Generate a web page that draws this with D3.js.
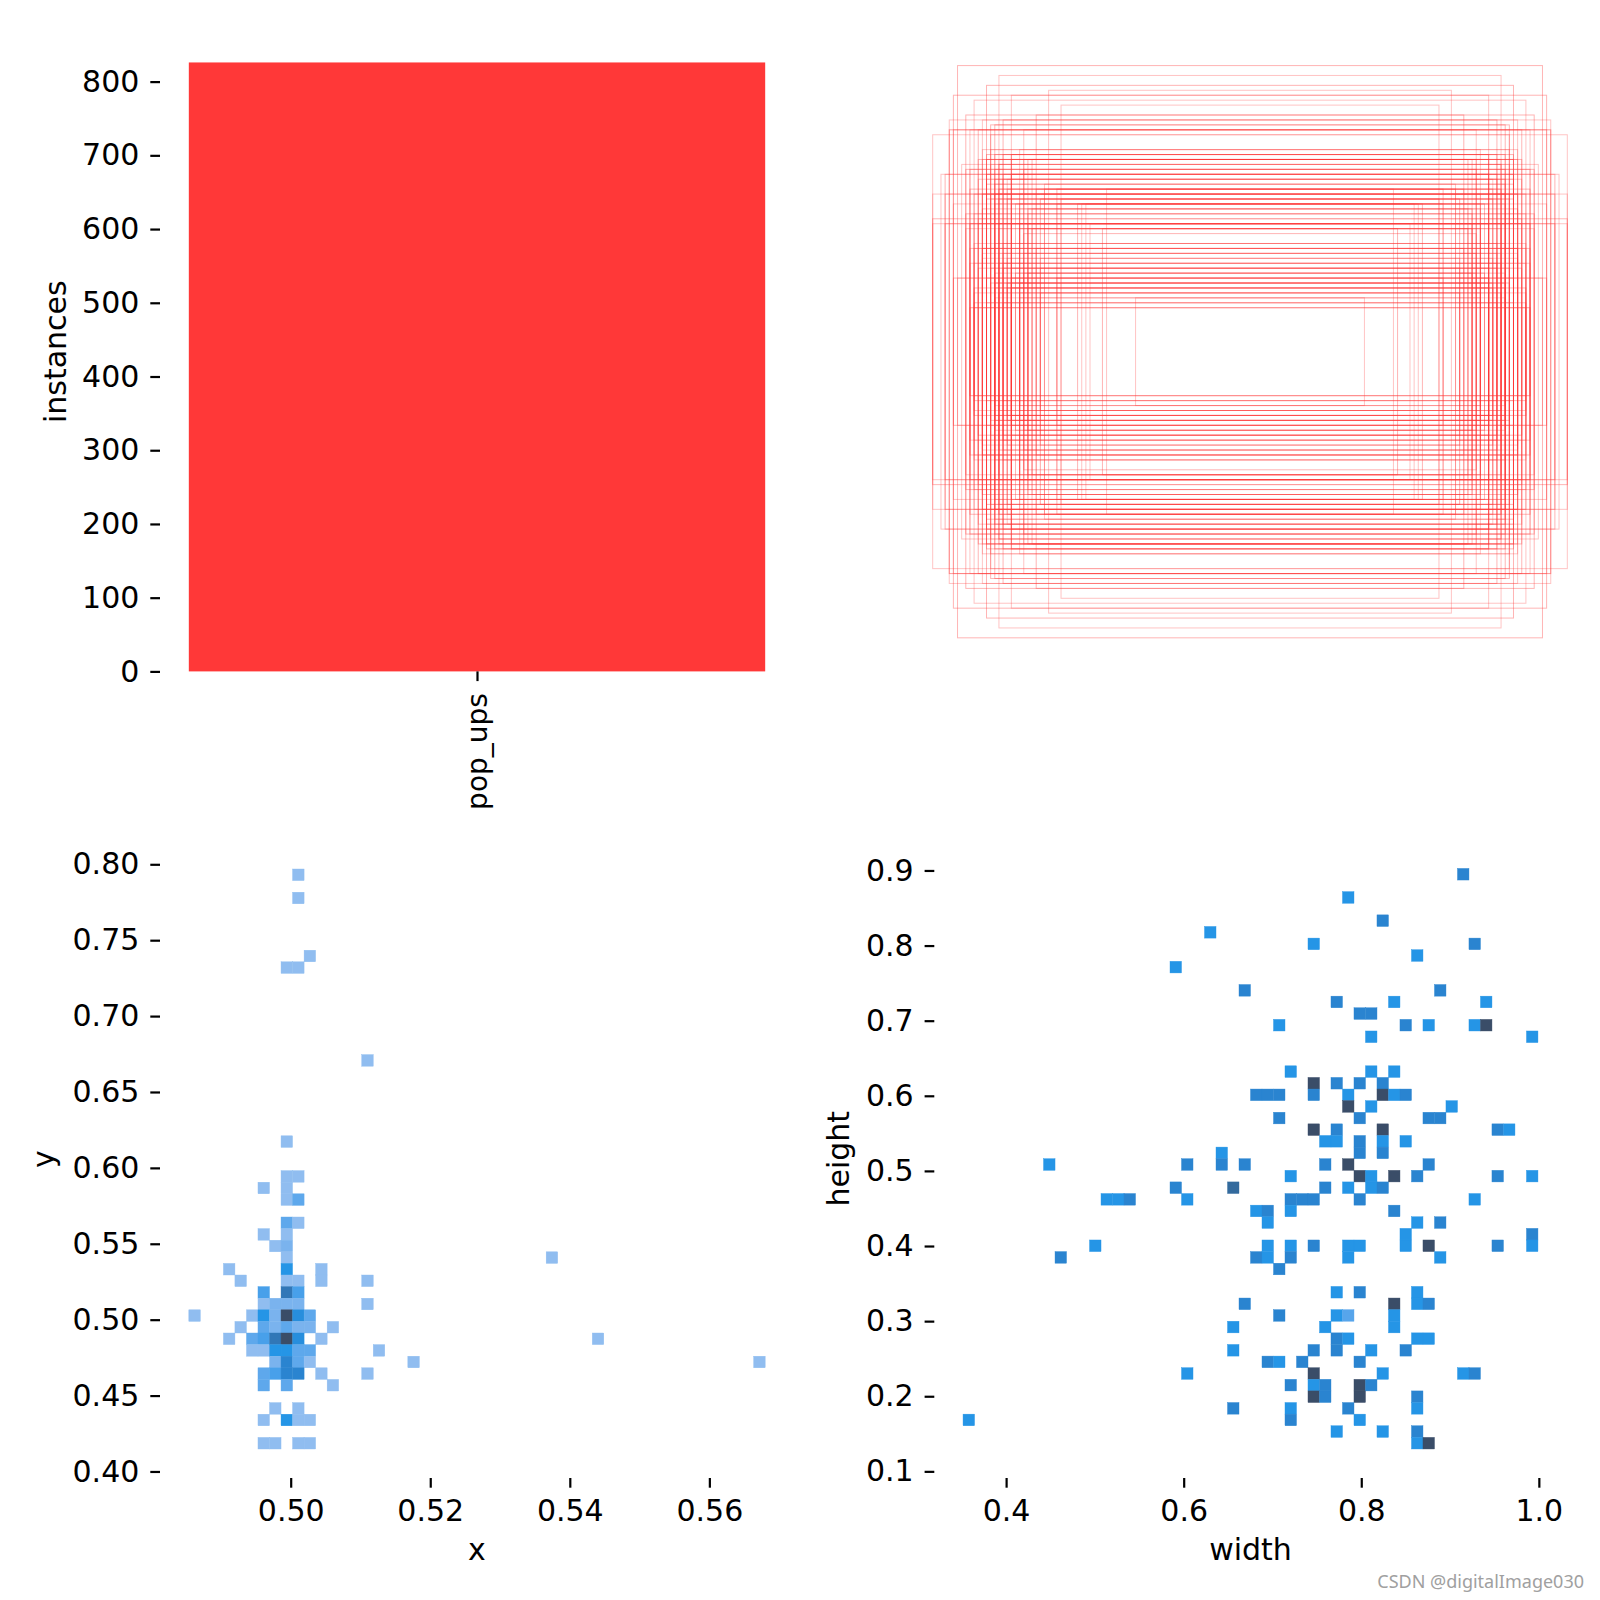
<!DOCTYPE html>
<html><head><meta charset="utf-8">
<script src="https://cdn.jsdelivr.net/npm/d3@7"></script>
<style>
html,body{margin:0;padding:0;background:#fff;}
svg{display:block;}
</style></head><body>
<svg id="chart" width="1600" height="1600"></svg>
<script>
// ---------------- data ----------------
const CLASSES = ["pop_ups"];
const INSTANCES = [826];
const BAR_TICKS = [0, 100, 200, 300, 400, 500, 600, 700, 800];

const N_BINS = 50;
// x / y label-centre histogram (50x50 bins). cells: [xBin, yBinFromTop, count]
const XY_X_RANGE = [0.4854, 0.5680];
const XY_Y_RANGE = [0.4148, 0.7969];
const XY_X_TICKS = [0.50, 0.52, 0.54, 0.56];
const XY_Y_TICKS = [0.40, 0.45, 0.50, 0.55, 0.60, 0.65, 0.70, 0.75, 0.80];
const XY_VMAX = 30;
const XY_CELLS = [
  [9,0,3],[9,2,3],[10,7,3],[8,8,3],[9,8,3],[15,16,3],
  [8,23,3],
  [8,26,3],[9,26,3],
  [6,27,3],[8,27,3],
  [8,28,3],[9,28,9],
  [8,30,9],[9,30,3],
  [6,31,3],[8,31,3],
  [7,32,3],[8,32,6],
  [8,33,3],
  [3,34,3],[8,34,15],[11,34,3],
  [4,35,3],[8,35,3],[9,35,3],[11,35,3],[15,35,3],
  [6,36,12],[8,36,23],[9,36,12],
  [6,37,3],[7,37,6],[8,37,6],[9,37,6],[15,37,3],
  [0,38,3],[5,38,3],[6,38,15],[7,38,6],[8,38,190],[9,38,17],[10,38,9],
  [4,39,3],[6,39,9],[7,39,6],[8,39,9],[9,39,6],[10,39,6],[12,39,3],
  [3,40,3],[5,40,9],[6,40,12],[7,40,23],[8,40,170],[9,40,17],[11,40,3],
  [5,41,3],[6,41,3],[7,41,15],[8,41,15],[9,41,9],[10,41,9],[16,41,3],
  [7,42,6],[8,42,20],[9,42,9],[10,42,3],[19,42,3],
  [6,43,9],[7,43,12],[8,43,20],[9,43,20],[11,43,3],[15,43,3],
  [6,44,9],[8,44,9],[12,44,3],
  [7,46,3],[9,46,3],
  [6,47,3],[8,47,15],[9,47,3],[10,47,3],
  [6,49,3],[7,49,3],[9,49,3],[10,49,3],
  [31,33,3],[35,40,3],[49,42,3]
];

// width / height histogram (50x50 bins). cells: [wBin, hBinFromTop, count]
const WH_W_RANGE = [0.3515, 0.9990];
const WH_H_RANGE = [0.1298, 0.9027];
const WH_X_TICKS = [0.4, 0.6, 0.8, 1.0];
const WH_Y_TICKS = [0.1, 0.2, 0.3, 0.4, 0.5, 0.6, 0.7, 0.8, 0.9];
const WH_VMAX = 6;
const WH_CELLS = [
  [43,0,4],
  [33,2,3],
  [36,4,4],
  [21,5,3],
  [30,6,3],[44,6,4],
  [39,7,3],
  [18,8,3],
  [24,10,4],[41,10,4],
  [32,11,4],[37,11,3],[45,11,3],
  [34,12,4],[35,12,4],
  [27,13,3],[38,13,4],[40,13,3],[44,13,3],[45,13,6],
  [35,14,3],[49,14,3],
  [28,17,3],[35,17,3],[37,17,3],
  [30,18,6],[32,18,4],[34,18,4],[36,18,4],
  [25,19,4],[26,19,4],[27,19,4],[30,19,4],[33,19,3],[36,19,6],[37,19,3],[38,19,4],
  [33,20,6],[35,20,3],[42,20,3],
  [27,21,4],[34,21,4],[40,21,4],[41,21,4],
  [30,22,6],[32,22,4],[36,22,6],[46,22,4],[47,22,3],
  [31,23,3],[32,23,3],[34,23,4],[36,23,3],[38,23,3],
  [22,24,3],[34,24,4],[36,24,4],
  [7,25,3],[19,25,4],[22,25,4],[24,25,4],[31,25,4],[33,25,6],[40,25,4],
  [28,26,3],[34,26,6],[35,26,3],[37,26,6],[39,26,4],[46,26,4],[49,26,3],
  [18,27,4],[23,27,5],[31,27,4],[33,27,3],[35,27,3],[36,27,4],
  [12,28,3],[13,28,3],[14,28,4],[19,28,3],[28,28,4],[29,28,4],[30,28,4],[34,28,4],[44,28,3],
  [25,29,3],[26,29,4],[28,29,3],[37,29,4],
  [26,30,3],[39,30,3],[41,30,4],
  [38,31,3],[49,31,4],
  [11,32,3],[26,32,3],[28,32,3],[30,32,4],[33,32,3],[34,32,3],[38,32,3],[40,32,6],[46,32,4],[49,32,3],
  [8,33,4],[25,33,4],[26,33,3],[28,33,4],[33,33,3],[41,33,3],
  [27,34,4],
  [32,36,3],[34,36,4],[39,36,3],
  [24,37,4],[37,37,6],[39,37,3],[40,37,4],
  [27,38,4],[32,38,3],[33,38,2],[37,38,3],
  [23,39,3],[31,39,3],[37,39,3],
  [32,40,4],[33,40,3],[39,40,3],[40,40,3],
  [23,41,3],[30,41,4],[32,41,4],[35,41,3],[38,41,4],
  [26,42,4],[27,42,3],[29,42,4],[34,42,4],
  [19,43,3],[30,43,6],[36,43,3],[43,43,3],[44,43,4],
  [28,44,4],[30,44,3],[31,44,4],[34,44,6],[35,44,4],
  [30,45,6],[31,45,4],[34,45,6],[39,45,4],
  [23,46,4],[28,46,3],[33,46,4],[39,46,3],
  [0,47,3],[28,47,4],[34,47,3],
  [32,48,3],[36,48,3],[39,48,4],
  [39,49,3],[40,49,6]
];

// ---------------- style ----------------
const FONT = "'DejaVu Sans', sans-serif";
const FS = 30;
const TICK_LEN = 9.7, TICK_W = 2.2;
const RED = "#ff3838";
const CMAP_STOPS = [0, 0.1, 0.2, 0.3, 0.4, 0.5, 0.67, 0.77, 0.85, 1];
const CMAP_COLORS = ["#a3c8f2", "#90bdf0", "#7ab3ee", "#5ea8ec", "#48a0ea", "#2595e6", "#2a84d0", "#3177b6", "#346696", "#3a4d68"];
const cmap = d3.scaleLinear().domain(CMAP_STOPS).range(CMAP_COLORS).interpolate(d3.interpolateRgb).clamp(true);

const svg = d3.select("#chart");
svg.append("rect").attr("width", 1600).attr("height", 1600).attr("fill", "#fff");

function styleAxis(g) {
  g.attr("font-size", FS).attr("font-family", FONT);
  g.select(".domain").remove();
  g.selectAll(".tick line").attr("stroke", "#000").attr("stroke-width", TICK_W);
  g.selectAll(".tick text").attr("fill", "#000");
}
function padded(r) { const m = (r[1] - r[0]) * 0.05; return [r[0] - m, r[1] + m]; }
function label(txt, x, y, rotate) {
  const t = svg.append("text").text(txt).attr("font-family", FONT).attr("font-size", FS)
    .attr("fill", "#000").attr("text-anchor", "middle");
  if (rotate) t.attr("transform", `translate(${x},${y}) rotate(-90)`);
  else t.attr("x", x).attr("y", y);
}

// ---------------- top-left: instances bar ----------------
{
  const L = 160, R = 794, T = 32, B = 671.4;
  const x = d3.scaleLinear().domain([-0.44, 0.44]).range([L, R]);
  const y = d3.scaleLinear().domain([0, d3.max(INSTANCES) * 1.05]).range([B, T]);
  svg.append("g").selectAll("rect").data(INSTANCES).join("rect")
    .attr("x", (d, i) => x(i - 0.4)).attr("width", (d, i) => x(i + 0.4) - x(i - 0.4))
    .attr("y", d => y(d)).attr("height", d => y(0) - y(d)).attr("fill", RED);
  const gy = svg.append("g").attr("transform", `translate(${L},0)`)
    .call(d3.axisLeft(y).tickValues(BAR_TICKS).tickSize(TICK_LEN).tickPadding(11));
  styleAxis(gy);
  const gx = svg.append("g").attr("transform", `translate(0,${B})`)
    .call(d3.axisBottom(x).tickValues(CLASSES.map((c, i) => i)).tickFormat(i => CLASSES[i]).tickSize(TICK_LEN));
  styleAxis(gx);
  gx.selectAll(".tick text").attr("y", null).attr("dy", "0.35em").attr("x", 0)
    .attr("font-size", 28)
    .attr("text-anchor", "end").attr("transform", `translate(0,${TICK_LEN + 12}) rotate(-90)`);
  label("instances", 66, (T + B) / 2, true);
}

// ---------------- top-right: box outlines centred ----------------
{
  const xs = d3.scaleLinear().domain([0, 1]).range([930.3, 1569.7]);
  const ys = d3.scaleLinear().domain([0, 1]).range([32, 671.4]);
  const bw = (WH_W_RANGE[1] - WH_W_RANGE[0]) / N_BINS;
  const bh = (WH_H_RANGE[1] - WH_H_RANGE[0]) / N_BINS;
  const boxes = WH_CELLS.map(([i, j, c]) => ({
    w: WH_W_RANGE[0] + (i + 0.5) * bw,
    h: WH_H_RANGE[0] + (N_BINS - 1 - j + 0.5) * bh,
    c
  }));
  svg.append("g").selectAll("rect").data(boxes).join("rect")
    .attr("x", d => xs(0.5 - d.w / 2)).attr("width", d => xs(0.5 + d.w / 2) - xs(0.5 - d.w / 2))
    .attr("y", d => ys(0.5 - d.h / 2)).attr("height", d => ys(0.5 + d.h / 2) - ys(0.5 - d.h / 2))
    .attr("fill", "none").attr("stroke", RED).attr("stroke-width", 1)
    .attr("stroke-opacity", d => 1 - Math.pow(0.89, d.c));
}

// ---------------- bivariate histogram helper ----------------
function hist2d(cells, xr, yr, vmax, L, R, T, B, xticks, yticks, fmt, xlab, ylab, ylabX) {
  const x = d3.scaleLinear().domain(padded(xr)).range([L, R]);
  const y = d3.scaleLinear().domain(padded(yr)).range([B, T]);
  const bw = (xr[1] - xr[0]) / N_BINS, bh = (yr[1] - yr[0]) / N_BINS;
  svg.append("g").selectAll("rect").data(cells).join("rect")
    .attr("x", d => x(xr[0] + d[0] * bw))
    .attr("width", d => x(xr[0] + (d[0] + 1) * bw) - x(xr[0] + d[0] * bw))
    .attr("y", d => y(yr[0] + (N_BINS - d[1]) * bh))
    .attr("height", d => y(yr[0] + (N_BINS - 1 - d[1]) * bh) - y(yr[0] + (N_BINS - d[1]) * bh))
    .attr("fill", d => cmap(d[2] / vmax))
    .attr("stroke", d => cmap(d[2] / vmax)).attr("stroke-width", 0.4);
  const gy = svg.append("g").attr("transform", `translate(${L},0)`)
    .call(d3.axisLeft(y).tickValues(yticks).tickFormat(d3.format(fmt)).tickSize(TICK_LEN).tickPadding(11));
  styleAxis(gy);
  const gx = svg.append("g").attr("transform", `translate(0,${B})`)
    .call(d3.axisBottom(x).tickValues(xticks).tickFormat(d3.format(fmt)).tickSize(TICK_LEN).tickPadding(12));
  styleAxis(gx);
  label(xlab, (L + R) / 2, 1560, false);
  label(ylab, ylabX, (T + B) / 2, true);
}

hist2d(XY_CELLS, XY_X_RANGE, XY_Y_RANGE, XY_VMAX, 160, 794, 840, 1478,
  XY_X_TICKS, XY_Y_TICKS, ".2f", "x", "y", 54);
hist2d(WH_CELLS, WH_W_RANGE, WH_H_RANGE, WH_VMAX, 934.3, 1566.7, 839.4, 1478,
  WH_X_TICKS, WH_Y_TICKS, ".1f", "width", "height", 849);

// watermark
svg.append("text").text("CSDN @digitalImage030").attr("x", 1584).attr("y", 1588)
  .attr("text-anchor", "end").attr("font-family", "'Noto Sans', sans-serif")
  .attr("font-size", 18).attr("fill", "#a0a0a0");
</script>
</body></html>
